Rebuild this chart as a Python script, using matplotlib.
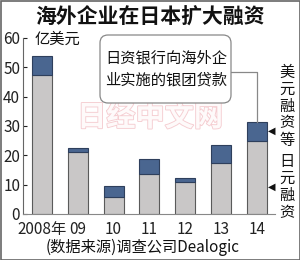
import matplotlib
matplotlib.use('agg')
import matplotlib.pyplot as plt
import matplotlib.transforms as mtransforms
import matplotlib.patheffects as pe
from matplotlib.patches import FancyBboxPatch, Rectangle

plt.rcParams['font.family'] = ['Noto Sans CJK SC', 'DejaVu Sans']

# data (100 million USD)
years = ['2008年', '09', '10', '11', '12', '13', '14']
yen = [47.5, 21.3, 5.7, 13.6, 11.0, 17.3, 25.0]
usd = [6.5, 1.2, 4.0, 5.1, 1.2, 6.2, 6.5]
totals = [a + b for a, b in zip(yen, usd)]

W, H = 300, 260
fig = plt.figure(figsize=(W / 100, H / 100), dpi=100)
# pixel coords measured from the top-left corner
pix = mtransforms.Affine2D().scale(1 / W, -1 / H).translate(0, 1) + fig.transFigure

ax = fig.add_axes([23 / W, 46 / H, 252 / W, 176 / H])
x = list(range(len(years)))
ax.bar(x, yen, width=0.56, color='#c9c7c7', edgecolor='#5a5a5a', linewidth=0.8)
ax.bar(x, usd, bottom=yen, width=0.56, color='#4a6690', edgecolor='#2e3f5c', linewidth=0.8)

ax.set_xlim(-0.53, 6.51)
ax.set_ylim(0, 60)
ax.set_yticks(range(0, 61, 10))
ax.set_xticks(x)
ax.set_xticklabels(years)
ax.tick_params(axis='y', direction='in', length=3, width=0.8, labelsize=11, pad=2, colors='#222')
ax.tick_params(axis='x', length=0, labelsize=11, pad=5, colors='#222')
for s in ['top', 'right']:
    ax.spines[s].set_visible(False)
ax.spines['left'].set_color('#666')
ax.spines['bottom'].set_color('#888')
ax.patch.set_alpha(0)

# watermark
fig.text(150, 117, '日经中文网', transform=pix, ha='center', va='center', fontsize=21,
         fontweight='bold', color='#fefafa', zorder=0,
         path_effects=[pe.withStroke(linewidth=1.3, foreground='#f5cdd1')])

# leader line from the box to the 2014 bar
ax.plot([5.28, 6, 6], [48.5, 48.5, totals[-1]], color='#888', lw=0.9, clip_on=False)

fig.text(150, 17, '海外企业在日本扩大融资', transform=pix, ha='center', va='center',
         fontsize=15, fontweight='bold', color='#111')
fig.text(35, 39, '亿美元', transform=pix, ha='left', va='center', fontsize=11, color='#111')

box = FancyBboxPatch((100, 35), 131, 68, boxstyle='round,pad=0,rounding_size=8',
                     transform=pix, facecolor='white', edgecolor='#888', lw=0.9)
fig.add_artist(box)
fig.text(166, 69, '日资银行向海外企\n业实施的银团贷款', transform=pix, ha='center', va='center',
         fontsize=11, linespacing=1.35, color='#111')

fig.text(287, 106, '美\n元\n融\n资\n等', transform=pix, ha='center', va='center',
         fontsize=11, linespacing=1.0, color='#111')
fig.text(287, 187, '日\n元\n融\n资', transform=pix, ha='center', va='center',
         fontsize=11, linespacing=1.0, color='#111')
fig.text(272, 131, '◀', transform=pix, ha='center', va='center', fontsize=7,
         family=['DejaVu Sans'], color='#111')
fig.text(272, 187, '◀', transform=pix, ha='center', va='center', fontsize=7,
         family=['DejaVu Sans'], color='#111')

fig.text(143, 247, '(数据来源)调查公司Dealogic', transform=pix, ha='center', va='center',
         fontsize=11, color='#111')

fig.add_artist(Rectangle((0.5, 0.5), W - 1, H - 1, transform=pix, fill=False,
                         edgecolor='#666', lw=1.2))

fig.savefig('out.png', dpi=100)
